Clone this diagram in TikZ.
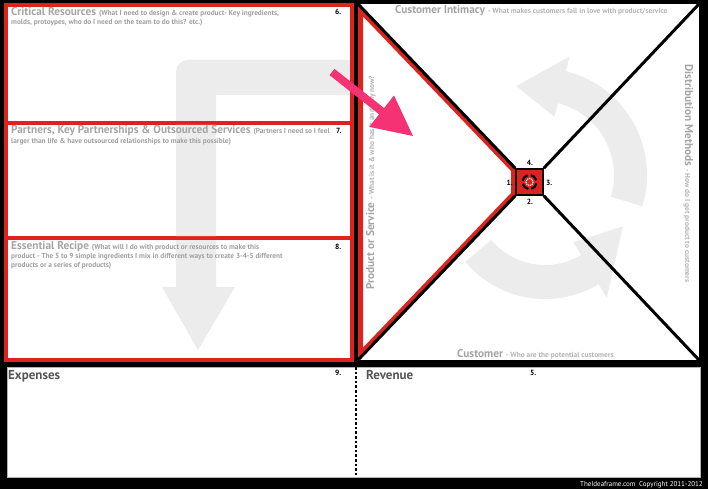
\documentclass[tikz,border=0pt]{standalone}
\usepackage{fontspec}
\setmainfont{PT Sans}
\definecolor{redb}{RGB}{220,35,30}
\definecolor{ttlgray}{RGB}{165,165,165}
\definecolor{subgray}{RGB}{160,160,160}
\definecolor{subgrayr}{RGB}{180,180,180}
\definecolor{dkgray}{RGB}{85,85,85}
\definecolor{pinkarrow}{RGB}{245,50,115}
\definecolor{bggray}{RGB}{236,236,236}
\newcommand\mytitle{\fontsize{11.3}{13}\selectfont\bfseries\color{ttlgray}}
\newcommand\mysub{\fontsize{7.3}{8}\selectfont\bfseries\color{subgray}}
\newcommand\mysubr{\fontsize{7.4}{8}\selectfont\bfseries\color{subgrayr}}
\newcommand\mynum{\fontsize{7.5}{8}\selectfont\bfseries\color{black}}
\newcommand\mybig{\fontsize{13}{15}\selectfont\bfseries\color{dkgray}}
\begin{document}
\begin{tikzpicture}[x=1pt,y=-1pt,
  txt/.style={inner sep=0pt,anchor=base west},
  num/.style={inner sep=0pt,anchor=base west,font=\mynum}]
\useasboundingbox (0,0) rectangle (708,489);
\fill[black] (0,0) rectangle (708,489);
% left panel
\fill[redb] (4,3) rectangle (354,362);
\fill[white] (8,7) rectangle (350,121);
\fill[white] (8,125) rectangle (350,236);
\fill[white] (8,240) rectangle (350,358);
\begin{scope}
\clip (8,7) rectangle (350,121) (8,125) rectangle (350,236) (8,240) rectangle (350,358);
\fill[bggray] (350,60) -- (188,60) arc[start angle=-90,end angle=-180,radius=12]
  -- (176,287) -- (162,287) -- (198,350) -- (235,287) -- (216,287) -- (216,95) -- (350,95) -- cycle;
\end{scope}
\node[txt] (cr1) at (11,16) {\mytitle Critical Resources \mysub(What I need to design \& create product- Key ingredients,};
\node[txt] (cr2) at (11,25) {\mysub molds, protoypes, who do I need on the team to do this? etc.)};
\node[num] (n6) at (335,15) {6.};
\node[txt] (kp1) at (11,134) {\mytitle Partners, Key Partnerships \& Outsourced Services \mysub(Partners I need so I feel};
\node[txt] (kp2) at (11,143) {\mysub larger than life \& have outsourced relationships to make this possible)};
\node[num] (n7) at (336,134) {7.};
\node[txt] (er1) at (11,249) {\mytitle Essential Recipe \mysub(What will I do with product or resources to make this};
\node[txt] (er2) at (11,258) {\mysub product - The 5 to 9 simple ingredients I mix in different ways to create 3-4-5 different};
\node[txt] (er3) at (11,267) {\mysub products or a series of products)};
\node[num] (n8) at (335,249) {8.};
% right panel
\fill[white] (358,4) rectangle (699,360);
\begin{scope}[shift={(540,175)}]
\fill[bggray] (17:107) arc[start angle=17,end angle=-76,radius=107] -- (-76:122) -- (-105:92)
  -- (-76:60) -- (-76:74) arc[start angle=-76,end angle=17,radius=74] -- cycle;
\end{scope}
\begin{scope}[shift={(545,195)}]
\fill[bggray] (140:104) arc[start angle=140,end angle=59,radius=104] -- (59:120) -- (22:84)
  -- (59:55) -- (59:70) arc[start angle=59,end angle=140,radius=70] -- cycle;
\end{scope}
\begin{scope}
\clip (358,4) -- (516,169) -- (516,195) -- (358,360) -- cycle;
\draw[redb,line width=10] (358,4) -- (516,169) -- (516,195) -- (358,360) -- cycle;
\end{scope}
\node[draw=black,line width=1.5,fill=redb,minimum width=27,minimum height=26,inner sep=0pt] (hub) at (529.5,182) {};
\draw[line width=3] (358,4) -- (hub.north west);
\draw[line width=3] (699,4) -- (hub.north east);
\draw[line width=3] (358,360) -- (hub.south west);
\draw[line width=3] (699,360) -- (hub.south east);
\begin{scope}[shift={(529.5,182)}]
\foreach \a in {10,100,190,280} {\draw[line width=2.2] (\a:7) arc[start angle=\a,end angle=\a+65,radius=7];}
\draw[white,line width=1,dash pattern=on 1.2pt off 0.8pt] (0,0) circle[radius=3.6];
\end{scope}
\node[num,anchor=base] (h4) at (530,165) {4.};
\node[num,anchor=base] (h2) at (530,204) {2.};
\node[num,anchor=base east] (h1) at (513,185) {1.};
\node[num,anchor=base west] (h3) at (546,185) {3.};
\node[txt] (ci) at (395,14) {\mytitle Customer Intimacy \mysubr - What makes customers fall in love with product/service};
\node[txt] (cu) at (457,357) {\mytitle Customer \mysubr - Who are the potential customers};
\node[txt,rotate=90] (ps) at (374,290) {\mytitle Product or Service \mysubr - What is it \& who has it and why now?};
\node[txt,rotate=-90] (dm) at (685,64) {\mytitle Distribution Methods \mysubr - How do I get product to customers};
% bottom
\filldraw[fill=white,draw=gray!60,line width=0.8] (7,367) rectangle (700,477);
\draw[line width=2.6,dash pattern=on 2.6pt off 2pt] (356,367) -- (356,477);
\node[txt] (ex) at (8,379) {\mybig Expenses};
\node[num] (n9) at (335,375) {9.};
\node[txt] (rv) at (366,379) {\mybig Revenue};
\node[num] (n5) at (530,375) {5.};
\node[inner sep=0pt,anchor=base east,font=\fontsize{7}{8}\selectfont,text=white] (foot) at (703,486) {TheIdeaframe.com\ \ Copyright 2011-2012};
% pink arrow
\fill[pinkarrow] (334.5,68.9) -- (384.1,108.1) -- (394.0,95.5) -- (413,136) -- (369.2,126.9) -- (379.1,114.3) -- (329.5,75.1) -- cycle;
\end{tikzpicture}
\end{document}
